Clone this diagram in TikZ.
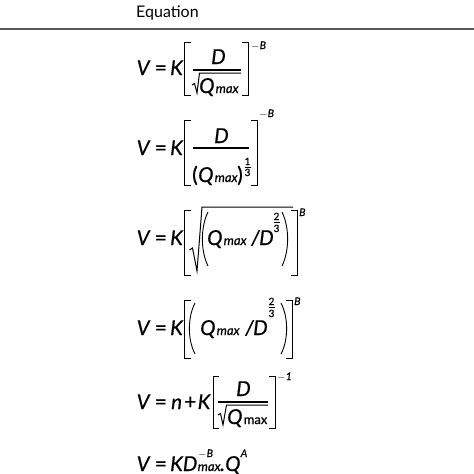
\documentclass[tikz,border=0pt]{standalone}
\usepackage{fontspec}
\setmainfont{Lato}
\newfontfamily\eqf{Lato}[FakeBold=0.6]
\newcommand{\mylb}[3]{\draw[brk] (#1+6,#2) -- (#1,#2) -- (#1,#3) -- (#1+6,#3);}
\newcommand{\myrb}[3]{\draw[brk] (#1-6,#2) -- (#1,#2) -- (#1,#3) -- (#1-6,#3);}
\newcommand{\mylp}[3]{\draw[par] (#1+6,#2) .. controls ({#1-1.5},{#2+(#3-#2)*0.28}) and ({#1-1.5},{#3-(#3-#2)*0.28}) .. (#1+6,#3);}
\newcommand{\myrp}[3]{\draw[par] (#1-6,#2) .. controls ({#1+1.5},{#2+(#3-#2)*0.28}) and ({#1+1.5},{#3-(#3-#2)*0.28}) .. (#1-6,#3);}
\begin{document}
\begin{tikzpicture}[x=1pt,y=-1pt,
  txt/.style={anchor=base west,inner sep=0pt,font=\eqf\fontsize{20.5}{24}\selectfont\itshape},
  op/.style={anchor=base west,inner sep=0pt,font=\eqf\fontsize{21}{24}\selectfont},
  subx/.style={anchor=base west,inner sep=0pt,font=\eqf\fontsize{13}{14}\selectfont\itshape},
  subu/.style={anchor=base west,inner sep=0pt,font=\eqf\fontsize{13}{14}\selectfont},
  supx/.style={anchor=base west,inner sep=0pt,font=\eqf\fontsize{10.5}{12}\selectfont\itshape},
  dig/.style={anchor=base,inner sep=0pt,font=\eqf\fontsize{10}{11}\selectfont},
  brk/.style={line width=0.9pt},
  par/.style={line width=0.9pt},
  fr/.style={line width=1.1pt},
  rad/.style={line width=1pt,line join=miter}]
\useasboundingbox (0,0) rectangle (474,474);
% header
\node[anchor=base west,inner sep=0pt,font=\fontsize{16}{19}\selectfont] (hdr) at (136,17) {Equation};
\coordinate (rl) at (0,29);
\coordinate (rr) at (474,29);
\draw[black!65,line width=1.5pt] (rl) -- (rr);

% ---------- Eq 1
\node[txt] (v1) at (136.5,75) {V};
\node[op]  (e1) at (154.5,75) {=};
\node[txt] (k1) at (170,75) {K};
\mylb{184.5}{42}{95}
\node[txt] (d1) at (211,64) {D};
\draw[fr] (193,70) -- (241,70);
\draw[rad] (192,85) -- (194.5,83.5) -- (197,93) -- (199.5,73) -- (241,73);
\node[txt] (q1) at (199,93) {Q};
\node[subx] (m1) at (215.5,93) {max};
\myrb{248}{42}{95}
\node[supx] (s1) at (251,49) {$-$B};

% ---------- Eq 2
\node[txt] (v2) at (136.5,155) {V};
\node[op]  (e2) at (154.5,155) {=};
\node[txt] (k2) at (170,155) {K};
\mylb{184.5}{120}{185}
\node[txt] (d2) at (214,143) {D};
\draw[fr] (193,148) -- (249,148);
\node[op] (lp2) at (192,182) {(};
\node[txt] (q2) at (198,182) {Q};
\node[subx] (m2) at (214.5,182) {max};
\node[op] (rp2) at (237,182) {)};
\node[dig] (n2) at (247.5,165) {1};
\draw[line width=0.6pt] (244.5,167.5) -- (250.5,167.5);
\node[dig] (dn2) at (247.5,176) {3};
\myrb{257}{120}{185}
\node[supx] (s2) at (259,117) {$-$B};

% ---------- Eq 3
\node[txt] (v3) at (136.5,245) {V};
\node[op]  (e3) at (154.5,245) {=};
\node[txt] (k3) at (170,245) {K};
\mylb{184.5}{210}{275}
\draw[rad] (189.5,250) -- (192.5,248) -- (197,271) -- (202,207) -- (293,207);
\mylp{202}{212}{266}
\node[txt] (q3) at (207,245) {Q};
\node[subx] (m3) at (223.5,245) {max};
\node[txt] (sl3) at (251,245) {/};
\node[txt] (dd3) at (259,245) {D};
\node[dig] (n3) at (276.5,220) {2};
\draw[line width=0.6pt] (273.5,222.5) -- (279.5,222.5);
\node[dig] (dn3) at (276.5,232) {3};
\myrp{288}{212}{266}
\myrb{297}{210}{275}
\node[supx] (s3) at (299,216) {B};

% ---------- Eq 4
\node[txt] (v4) at (136.5,335) {V};
\node[op]  (e4) at (154.5,335) {=};
\node[txt] (k4) at (170,335) {K};
\mylb{184.5}{300}{358}
\mylp{189}{303}{354}
\node[txt] (q4) at (200,335) {Q};
\node[subx] (m4) at (216.5,335) {max};
\node[txt] (sl4) at (245,335) {/};
\node[txt] (dd4) at (253,335) {D};
\node[dig] (n4) at (271.5,305) {2};
\draw[line width=0.6pt] (268.5,307.5) -- (274.5,307.5);
\node[dig] (dn4) at (271.5,317) {3};
\myrp{287}{303}{354}
\myrb{292}{300}{358}
\node[supx] (s4) at (294,305) {B};

% ---------- Eq 5
\node[txt] (v5) at (136.5,409) {V};
\node[op]  (e5) at (154.5,409) {=};
\node[txt] (n5) at (171,409) {n};
\node[op]  (p5) at (184,409) {+};
\node[txt] (k5) at (197.5,409) {K};
\mylb{213}{376}{428}
\node[txt] (d5) at (236,396) {D};
\draw[fr] (218,402) -- (268,402);
\draw[rad] (218,415) -- (220.5,413.5) -- (223,425) -- (226.5,405) -- (268,405);
\node[txt] (q5) at (227,424) {Q};
\node[subu] (m5) at (243.5,424) {max};
\myrb{275}{376}{428}
\node[supx] (s5) at (277,380) {$-$1};

% ---------- Eq 6
\node[txt] (v6) at (136.5,471) {V};
\node[op]  (e6) at (154.5,471) {=};
\node[txt] (k6) at (170,471) {KD};
\node[supx] (s6) at (198,457) {$-$B};
\node[subx] (m6) at (197.5,471) {max};
\node[txt] (dt6) at (220,471) {.};
\node[txt] (q6) at (225,471) {Q};
\node[supx] (a6) at (240.5,457) {A};
\end{tikzpicture}
\end{document}
